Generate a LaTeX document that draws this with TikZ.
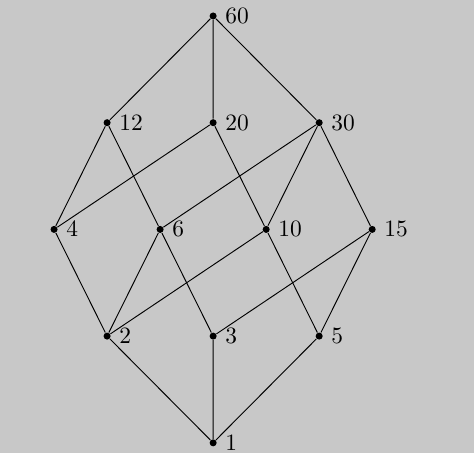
\documentclass[tikz,border=0pt]{standalone}
\usepackage{tikz}
\definecolor{bgray}{RGB}{200,200,200}

\begin{document}
\begin{tikzpicture}[x=0.795cm, y=1.6cm, >=latex]

% background and frame
\fill[bgray] (-4.02,-0.094) rectangle (4.92,4.15);
\useasboundingbox (-4.02,-0.094) rectangle (4.92,4.15);
\tikzset{elem/.style={circle, fill=black, inner sep=0pt, minimum size=3pt, label distance=-1.2pt}}

% draw the divisors of 60:
\node[elem, label={right:$60$}] (n60) at (0,4) {};
\node[elem, label={right:$12$}] (n12) at (-2,3) {};
\node[elem, label={right:$20$}] (n20) at (0,3) {};
\node[elem, label={right:$30$}] (n30) at (2,3) {};
\node[elem, label={right:$4$}] (n4) at (-3,2) {};
\node[elem, label={right:$6$}] (n6) at (-1,2) {};
\node[elem, label={right:$10$}] (n10) at (1,2) {};
\node[elem, label={right:$15$}] (n15) at (3,2) {};
\node[elem, label={right:$2$}] (n2) at (-2,1) {};
\node[elem, label={right:$3$}] (n3) at (0,1) {};
\node[elem, label={right:$5$}] (n5) at (2,1) {};
\node[elem, label={right:$1$}] (n1) at (0,0) {};

% draw the covering relations:
\draw[line width=0.4pt] (n1) -- (n2) (n1) -- (n3) (n1) -- (n5);
\draw[line width=0.4pt] (n2) -- (n4) (n2) -- (n6) (n2) -- (n10);
\draw[line width=0.4pt] (n3) -- (n6) (n3) -- (n15);
\draw[line width=0.4pt] (n5) -- (n10) (n5) -- (n15);
\draw[line width=0.4pt] (n4) -- (n12) (n4) -- (n20);
\draw[line width=0.4pt] (n6) -- (n12) (n6) -- (n30);
\draw[line width=0.4pt] (n10) -- (n20) (n10) -- (n30);
\draw[line width=0.4pt] (n15) -- (n30);
\draw[line width=0.4pt] (n12) -- (n60) (n20) -- (n60) (n30) -- (n60);
\end{tikzpicture}
\end{document}
